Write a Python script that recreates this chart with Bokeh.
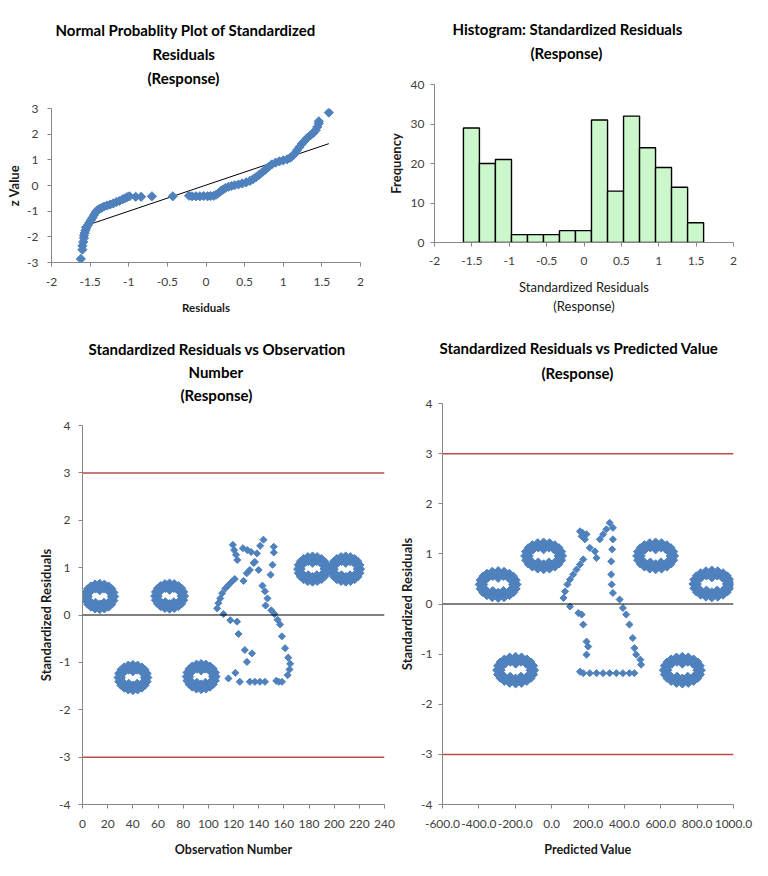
from bokeh.plotting import figure
from bokeh.models import FixedTicker, Span, Title
from bokeh.layouts import column, row
from bokeh.embed import file_html
from bokeh.resources import INLINE

FONT = "Lato"
BLUE = "#4F81BD"
RED = "#BE4B48"
AXIS_GRAY = "#868686"
TICK_TXT = "#404040"

# ---------------- Normal probability plot ----------------
npp_resid = [-1.62, -1.60, -1.60, -1.59, -1.58, -1.58, -1.57, -1.56, -1.55, -1.53, -1.51, -1.49, -1.47, -1.45,
             -1.43, -1.41, -1.38, -1.35, -1.32, -1.28, -1.24, -1.20, -1.16, -1.12, -1.08, -1.05, -1.02, -0.99,
             -0.91, -0.84, -0.70, -0.43, -0.22, -0.18, -0.13, -0.08, -0.03, 0.02, 0.06, 0.10, 0.13, 0.16, 0.19,
             0.22, 0.25, 0.29, 0.33, 0.37, 0.42, 0.47, 0.52, 0.57, 0.61, 0.65, 0.69, 0.73, 0.77, 0.81, 0.85,
             0.90, 0.95, 1.00, 1.05, 1.09, 1.12, 1.15, 1.18, 1.21, 1.24, 1.27, 1.31, 1.35, 1.39, 1.42, 1.44,
             1.46, 1.46, 1.59]
npp_z = [-2.86, -2.50, -2.35, -2.20, -2.05, -1.95, -1.85, -1.75, -1.65, -1.55, -1.45, -1.35, -1.26, -1.15,
         -1.05, -0.97, -0.91, -0.87, -0.82, -0.78, -0.74, -0.70, -0.64, -0.60, -0.54, -0.50, -0.45, -0.42,
         -0.44, -0.44, -0.42, -0.42, -0.40, -0.42, -0.42, -0.42, -0.41, -0.42, -0.41, -0.40, -0.36, -0.30, -0.22,
         -0.16, -0.10, -0.05, -0.02, 0.01, 0.04, 0.08, 0.12, 0.18, 0.25, 0.33, 0.42, 0.52, 0.62, 0.72, 0.82,
         0.89, 0.94, 0.98, 1.02, 1.08, 1.15, 1.25, 1.38, 1.50, 1.62, 1.72, 1.85, 1.95, 2.05, 2.15, 2.28,
         2.42, 2.50, 2.84]
npp_line_resid = [-1.61, 1.59]
npp_line_z = [-1.62, 1.63]

# ---------------- Histogram ----------------
hist_edges = [-1.613, -1.399, -1.185, -0.970, -0.756, -0.542, -0.328, -0.114, 0.100, 0.315, 0.529,
              0.743, 0.957, 1.171, 1.386, 1.600]
hist_counts = [29, 20, 21, 2, 2, 2, 3, 3, 31, 13, 32, 24, 19, 14, 5]

# ---------------- Cloud shape (unit offsets read from the clusters) ----------------
cloud_u = [1.0, 0.951, 0.809, 0.588, 0.309, 0.0, -0.309, -0.588, -0.809, -0.951, -1.0, -0.951, -0.809,
           -0.588, -0.309, 0.0, 0.309, 0.588, 0.809, 0.951,
           0.75, 0.693, 0.530, 0.287, 0.0, -0.287, -0.530, -0.693, -0.75, -0.693, -0.530, -0.287, 0.0,
           0.287, 0.530, 0.693,
           -0.55, -0.28, 0.0, 0.28, 0.55, -0.55, -0.28, 0.0, 0.28, 0.55]
cloud_v = [0.0, 0.309, 0.588, 0.809, 0.951, 1.0, 0.951, 0.809, 0.588, 0.309, 0.0, -0.309, -0.588,
           -0.809, -0.951, -1.0, -0.951, -0.809, -0.588, -0.309,
           0.0, 0.287, 0.530, 0.693, 0.75, 0.693, 0.530, 0.287, 0.0, -0.287, -0.530, -0.693, -0.75,
           -0.693, -0.530, -0.287,
           0.42, 0.55, 0.42, 0.55, 0.42, -0.55, -0.42, -0.55, -0.42, -0.55]

# Residuals vs observation number: cluster centres and spreads
obs_cloud_centre = [13.7, 40.1, 69.2, 94.3, 182.8, 209.2]
obs_cloud_resid = [0.39, -1.32, 0.40, -1.30, 0.97, 0.97]
obs_cloud_halfwidth = 12.0
cloud_resid_halfheight = 0.28

obs_zig = [107, 108, 109.5, 111, 113.5, 116, 118.5, 121,
           119.5, 120.5, 122, 123,
           127.5, 131, 134,
           137, 140, 143, 145, 147, 145.5,
           128, 130.5, 133, 136, 138.6, 141.2, 143.8,
           152, 152, 151, 149.5,
           150, 152.5, 155, 157, 158.5, 161, 163.5, 165, 164.5, 163,
           116, 121.5, 125, 133, 137, 141, 145, 154, 156, 158.5,
           112, 117.5, 122.8, 124, 129, 134.7, 130.7]
obs_zig_resid = [0.14, 0.25, 0.35, 0.46, 0.56, 0.63, 0.70, 0.76,
                 1.48, 1.37, 1.27, 1.16,
                 1.41, 1.37, 1.33,
                 1.12, 0.95, 0.62, 0.50, 0.35, 0.20,
                 0.72, 0.88, 0.95, 1.10, 1.30, 1.46, 1.59,
                 1.44, 1.32, 1.06, 0.85,
                 0.10, 0.02, -0.10, -0.20, -0.45, -0.70, -0.90, -1.03, -1.15, -1.27,
                 -1.34, -1.22, -1.41, -1.41, -1.41, -1.41, -1.41, -1.39, -1.41, -1.41,
                 0.02, -0.11, -0.14, -0.40, -0.74, -0.81, -0.99]

# Residuals vs predicted value
pred_cloud_centre = [-294, -44, -198, 572, 881, 719]
pred_cloud_resid = [0.39, 0.96, -1.32, 0.96, 0.40, -1.32]
pred_cloud_halfwidth = 105.0

pred_zig = [65, 74, 87, 101, 119, 137, 156, 174,
            156, 170, 165, 183, 192,
            210, 238, 247,
            265, 283, 301, 319,
            337, 337, 333, 328, 328, 330, 337,
            374, 392, 410, 428, 446, 455, 465, 488, 492,
            156, 174, 210, 247, 283, 319, 356, 392, 428, 455,
            101, 147, 165, 174, 192, 201, 192]
pred_zig_resid = [0.12, 0.25, 0.39, 0.49, 0.59, 0.69, 0.79, 0.89,
                  1.45, 1.42, 1.35, 1.29, 1.39,
                  1.12, 1.05, 0.92,
                  1.29, 1.39, 1.49, 1.62,
                  1.52, 1.29, 1.09, 0.85, 0.59, 0.39, 0.22,
                  0.09, -0.08, -0.21, -0.41, -0.68, -0.88, -1.01, -1.11, -1.21,
                  -1.35, -1.38, -1.38, -1.38, -1.38, -1.38, -1.38, -1.38, -1.38, -1.38,
                  -0.05, -0.18, -0.21, -0.41, -0.75, -0.85, -1.01]

control_limits = [3, -3]

# build the point tables
obs_cloud_x = [c + obs_cloud_halfwidth * u for c in obs_cloud_centre for u in cloud_u]
obs_cloud_y = [r + cloud_resid_halfheight * v for r in obs_cloud_resid for v in cloud_v]
pred_cloud_x = [c + pred_cloud_halfwidth * u for c in pred_cloud_centre for u in cloud_u]
pred_cloud_y = [r + cloud_resid_halfheight * v for r in pred_cloud_resid for v in cloud_v]


def make_fig(w, h, borders, xr, yr):
    l, r, t, b = borders
    p = figure(width=w, height=h, x_range=xr, y_range=yr, output_backend="svg", toolbar_location=None,
               min_border_left=l, min_border_right=r, min_border_top=t, min_border_bottom=b)
    p.xgrid.visible = False
    p.ygrid.visible = False
    p.outline_line_color = None
    p.background_fill_color = "white"
    p.border_fill_color = "white"
    return p


def style_axis(ax, ticks, labels, size, standoff, title="", title_size="12px", title_style="bold",
               title_standoff=5):
    ax.ticker = FixedTicker(ticks=ticks, minor_ticks=[])
    ax.major_label_overrides = dict(zip(ticks, labels))
    ax.axis_line_color = AXIS_GRAY
    ax.major_tick_line_color = AXIS_GRAY
    ax.major_tick_out = 4
    ax.major_tick_in = 0
    ax.minor_tick_out = 0
    ax.minor_tick_in = 0
    ax.major_label_text_font = FONT
    ax.major_label_text_font_size = size
    ax.major_label_text_color = TICK_TXT
    ax.major_label_standoff = standoff
    ax.axis_label = title if title else None
    ax.axis_label_text_font = FONT
    ax.axis_label_text_font_size = title_size
    ax.axis_label_text_font_style = title_style
    ax.axis_label_text_color = "#1a1a1a"
    ax.axis_label_standoff = title_standoff


def add_titles(p, lines, offsets, standoff, gap, place="above", size="15px", style="bold",
               color="black", align="left"):
    # lines are given nearest-to-frame first; a thin blank title provides the gap to the frame
    p.add_layout(Title(text=" ", text_font_size="1px", standoff=gap), place)
    for line, off in zip(lines, offsets):
        p.add_layout(Title(text=line, align=align, offset=off, text_font=FONT, text_font_size=size,
                           text_font_style=style, text_color=color, standoff=standoff), place)


# ---- Top-left: normal probability plot ----
p1 = make_fig(384, 330, (51, 24, 108, 68), (-2, 2), (-3, 3))
style_axis(p1.xaxis[0], [-2, -1.5, -1, -0.5, 0, 0.5, 1, 1.5, 2],
           ["-2", "-1.5", "-1", "-0.5", "0", "0.5", "1", "1.5", "2"], "12px", 11,
           "Residuals", "11.5px", "bold", 12)
style_axis(p1.yaxis[0], [-3, -2, -1, 0, 1, 2, 3], ["-3", "-2", "-1", "0", "1", "2", "3"], "12px", 9,
           "z Value", "13px", "bold", 2)
p1.line(npp_line_resid, npp_line_z, line_color="black", line_width=1)
p1.scatter(npp_resid, npp_z, marker="square", angle=0.7854, size=6.5, fill_color=BLUE, line_color=BLUE)
add_titles(p1, ["(Response)", "Residuals", "Normal Probablity Plot of Standardized"], [96, 101, 4], 4, 17)

# ---- Top-right: histogram ----
p2 = make_fig(384, 330, (42, 35, 84, 88), (-2, 2), (0, 40))
style_axis(p2.xaxis[0], [-2, -1.5, -1, -0.5, 0, 0.5, 1, 1.5, 2],
           ["-2", "-1.5", "-1", "-0.5", "0", "0.5", "1", "1.5", "2"], "12px", 10)
style_axis(p2.yaxis[0], [0, 10, 20, 30, 40], ["0", "10", "20", "30", "40"], "12px", 6,
           "Frequency", "13px", "bold", 4)
p2.quad(left=hist_edges[:-1], right=hist_edges[1:], top=hist_counts, bottom=0,
        fill_color="#CCF7CC", line_color="black", line_width=1.4)
add_titles(p2, ["(Response)", "Histogram: Standardized Residuals"], [96, 18], 4, 18)
add_titles(p2, ["Standardized Residuals", "(Response)"], [0, 0], 1, 6, place="below", size="13px",
           style="normal", color="#1a1a1a", align="center")

# ---- Bottom-left: residuals vs observation number ----
p3 = make_fig(396, 546, (82, 12, 95, 72), (0, 240), (-4, 4))
style_axis(p3.xaxis[0], list(range(0, 241, 20)), [str(v) for v in range(0, 241, 20)], "12px", 11,
           "Observation Number", "12.5px", "bold", 11)
style_axis(p3.yaxis[0], [-4, -3, -2, -1, 0, 1, 2, 3, 4], ["-4", "-3", "-2", "-1", "0", "1", "2", "3", "4"],
           "12px", 8, "Standardized Residuals", "13px", "bold", 2)
for lim in control_limits:
    p3.add_layout(Span(location=lim, dimension="width", line_color=RED, line_width=1.5))
p3.add_layout(Span(location=0, dimension="width", line_color="black", line_width=1.2))
p3.scatter(obs_cloud_x, obs_cloud_y, marker="square", angle=0.7854, size=5.5, fill_color=BLUE, line_color=BLUE)
p3.scatter(obs_zig, obs_zig_resid, marker="square", angle=0.7854, size=5, fill_color=BLUE, line_color=BLUE)
add_titles(p3, ["(Response)", "Number", "Standardized Residuals vs Observation"], [98, 106, 6], 3, 17)

# ---- Bottom-right: residuals vs predicted value ----
p4 = make_fig(372, 546, (41, 35, 73, 72), (-600, 1000), (-4, 4))
xt = [-600, -400, -200, 0, 200, 400, 600, 800, 1000]
style_axis(p4.xaxis[0], xt, ["-600.0", "-400.0", "-200.0", "0.0", "200.0", "400.0", "600.0", "800.0", "1000.0"],
           "12px", 11, "Predicted Value", "12.5px", "bold", 11)
style_axis(p4.yaxis[0], [-4, -3, -2, -1, 0, 1, 2, 3, 4], ["-4", "-3", "-2", "-1", "0", "1", "2", "3", "4"],
           "12px", 6, "Standardized Residuals", "13px", "bold", 3)
for lim in control_limits:
    p4.add_layout(Span(location=lim, dimension="width", line_color=RED, line_width=1.5))
p4.add_layout(Span(location=0, dimension="width", line_color="black", line_width=1.2))
p4.scatter(pred_cloud_x, pred_cloud_y, marker="square", angle=0.7854, size=5.5, fill_color=BLUE, line_color=BLUE)
p4.scatter(pred_zig, pred_zig_resid, marker="square", angle=0.7854, size=5, fill_color=BLUE, line_color=BLUE)
add_titles(p4, ["(Response)", "Standardized Residuals vs Predicted Value"], [99, -3], 5, 16)

layout = column(row(column(p1), column(p2)), row(column(p3), column(p4)))
open("out.html", "w").write(file_html(layout, INLINE))
